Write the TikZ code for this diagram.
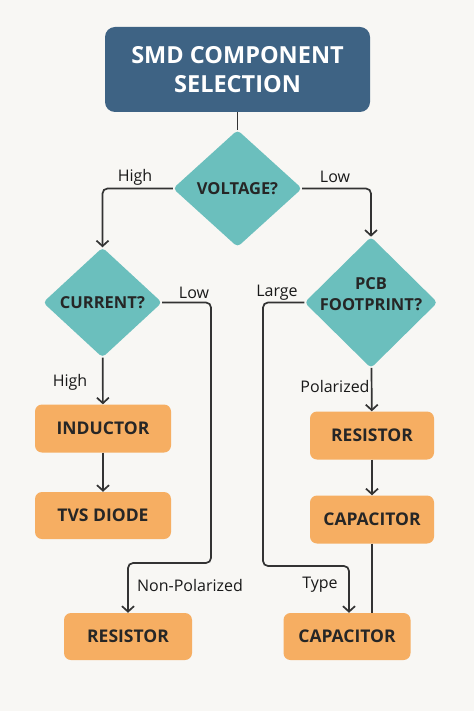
\documentclass[tikz,border=0pt]{standalone}
\usepackage{fontspec}
\setmainfont{Open Sans}
\newfontfamily\labelfont{Open Sans}
\usepackage{tikz}
\usetikzlibrary{shapes.geometric, positioning, calc, arrows.meta}
\definecolor{titleblue}{HTML}{3E6384}
\definecolor{decteal}{HTML}{6BBFBD}
\definecolor{partorange}{HTML}{F6AE62}
\definecolor{inkgray}{HTML}{333333}
\definecolor{paper}{HTML}{F8F7F4}
\tikzstyle{titlebox} = [rectangle, rounded corners=10pt, fill=titleblue, text=white, font=\fontsize{23.5}{29}\selectfont\bfseries, align=center, minimum width=265pt, minimum height=85pt]
\tikzstyle{decision} = [diamond, rounded corners=4pt, fill=decteal, text=black!85, font=\fontsize{16.5}{21}\selectfont\bfseries, align=center, inner sep=-5pt]
\tikzstyle{part} = [rectangle, rounded corners=7pt, fill=partorange, text=black!85, font=\fontsize{17.5}{20}\selectfont\bfseries, minimum height=48pt]
\tikzstyle{line} = [line width=1.7pt, draw=inkgray, rounded corners=5pt]
\tikzstyle{arrow} = [line, -{Straight Barb[length=5.5pt,width=12pt]}]
\tikzstyle{branch} = [font=\labelfont\fontsize{16}{19}\selectfont, text=black!90, inner sep=0pt]

\begin{document}
\begin{tikzpicture}[x=1pt,y=-1pt]

	\fill[paper] (0,0) rectangle (474,711);
	\useasboundingbox (0,0) rectangle (474,711);

	\coordinate (row1) at (0,69.5);
	\coordinate (row2) at ($ (row1) + (0,119) $);
	\coordinate (row3) at ($ (row2) + (0,114) $);
	\coordinate (row4) at ($ (row3) + (0,129) $);
	\coordinate (row5) at ($ (row4) + (0,86) $);
	\coordinate (row6) at ($ (row5) + (0,121) $);

	\node[titlebox] (title) at ($ (row1) + (237.5,0) $) {SMD COMPONENT\\SELECTION};
	\node[decision, minimum width=129pt, minimum height=117pt] (voltage) at ($ (row2) + (237.5,0) $) {VOLTAGE?};
	\node[decision, minimum width=119pt, minimum height=110pt] (current) at ($ (row3) + (102.5,0) $) {CURRENT?};
	\node[decision, minimum width=133pt, minimum height=121pt] (pcb) at ($ (row3) + (371,0) $) {PCB\\FOOTPRINT?\\[-5pt]};

	\node[part, minimum width=136pt] (inductor) at ($ (row4) + (103,-3) $) {INDUCTOR};
	\node[part, minimum width=136pt, minimum height=47pt] (tvs) at ($ (row5) + (103,-2) $) {TVS DIODE};
	\node[part, minimum width=124pt] (resR) at ($ (row4) + (372,4) $) {RESISTOR};
	\node[part, minimum width=124pt] (capR) at ($ (row5) + (372,2) $) {CAPACITOR};
	\node[part, minimum width=128pt, minimum height=47pt] (resL) at ($ (row6) + (128,-2) $) {RESISTOR};
	\node[part, minimum width=127pt, minimum height=47pt] (capB) at ($ (row6) + (347,-2) $) {CAPACITOR};

	\coordinate (lowbend) at (211,563);
	\coordinate (largebend) at (263,566);

	\draw[line] (title) -- (voltage);
	\draw[arrow] (voltage.west) -| (current.north);
	\draw[arrow] (voltage.east) -| (pcb.north);
	\draw[arrow] (current) -- (inductor);
	\draw[arrow] (inductor) -- (tvs);
	\draw[arrow] (current.east) -| (lowbend) -| (resL.north);
	\draw[arrow] (pcb) -- (resR);
	\draw[arrow] (resR) -- (capR);
	\draw[arrow] (pcb.west) -| (largebend) -| ([xshift=2pt]capB.north);
	\draw[line] (capR.south) -- (capR.south |- capB.north);

	\node[branch] (vhigh) at (135,177) {High};
	\node[branch] (vlow) at (335,177) {Low};
	\node[branch] (clow) at (194,293) {Low};
	\node[branch] (chigh) at (70,382) {High};
	\node[branch] (plarge) at (277,293) {Large};
	\node[branch] (ppol) at (335,386) {Polarized};
	\node[branch] (nonpol) at (190,585) {Non-Polarized};
	\node[branch] (ptype) at (320,585) {Type};

\end{tikzpicture}
\end{document}
